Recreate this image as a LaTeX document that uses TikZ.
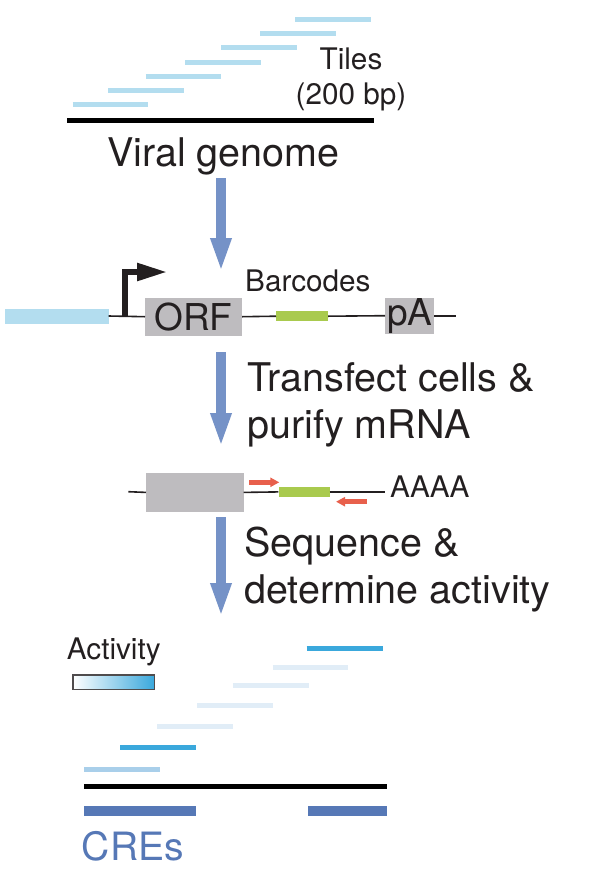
\documentclass[tikz,border=0pt]{standalone}
\usepackage{fontspec}
\setmainfont{TeX Gyre Heros}
\usetikzlibrary{arrows.meta}
\definecolor{tileblue}{HTML}{B3DDEF}
\definecolor{stepblue}{HTML}{7592C7}
\definecolor{orfgray}{HTML}{BEBCBF}
\definecolor{bcgreen}{HTML}{A9CA4E}
\definecolor{primerred}{HTML}{E8604C}
\definecolor{actbright}{HTML}{3AA8DC}
\definecolor{actmid}{HTML}{A9CFEA}
\definecolor{actfaint}{HTML}{E1EDF7}
\definecolor{creblue}{HTML}{5678B6}
\definecolor{ink}{HTML}{231F20}
\newcommand{\bigfont}{\fontsize{39.5}{46.5}\selectfont}
\newcommand{\boxfont}{\fontsize{37}{44}\selectfont}
\newcommand{\smallfont}{\fontsize{29.7}{35}\selectfont}

\begin{document}
\begin{tikzpicture}[
  x=1pt, y=-1pt,
  tile/.style={line width=5pt, tileblue},
  acttile/.style={line width=5pt},
  genome/.style={line width=5pt, black},
  dna/.style={line width=1.6pt, ink},
  box/.style={fill=orfgray, inner sep=0pt, anchor=north west,
              font=\boxfont, text=ink},
  lbl/.style={inner sep=0pt, anchor=base west, font=\smallfont, text=ink},
  biglbl/.style={inner sep=0pt, anchor=base west, font=\bigfont,
                 text=ink, align=left},
  stagearr/.style={line width=10pt, stepblue,
                   -{Triangle[length=34pt, width=19pt]}},
  primer/.style={line width=4.5pt, primerred,
                 -{Triangle[length=9pt, width=9pt]}},
]
\useasboundingbox (0,0) rectangle (597,876);

% ---- Tiles on the viral genome ----
\draw[tile] (72.7,104.7) -- (148.3,104.7);
\draw[tile] (108.0,90.3) -- (183.5,90.3);
\draw[tile] (145.7,76.3) -- (221.2,76.3);
\draw[tile] (185.3,62.3) -- (260.8,62.3);
\draw[tile] (221.0,47.7) -- (296.5,47.7);
\draw[tile] (260.3,33.7) -- (335.8,33.7);
\draw[tile] (295.0,19.3) -- (370.5,19.3);
\node[lbl, anchor=base, align=center] (tiles) at (351,104)
  {Tiles\\(200 bp)};

\draw[genome] (67.3,120.7) -- (374,120.7);
\node[biglbl] (viral) at (107,166.7) {Viral genome};

% ---- Step 1 ----
\coordinate (s1a) at (221,178);
\coordinate (s1b) at (221,272);
\draw[stagearr] (s1a) -- (s1b);

% ---- Reporter construct ----
\node[fill=tileblue, inner sep=0pt, anchor=north west,
      minimum width=103.3pt, minimum height=15pt] (ins) at (5,308.3) {};
\node[box, minimum width=96.7pt, minimum height=38.4pt] (orf) at (145,297.3)
  {ORF};
\node[fill=bcgreen, inner sep=0pt, anchor=north west,
      minimum width=51.7pt, minimum height=10pt] (bc) at (276,311) {};
\node[box, minimum width=49pt, minimum height=35.6pt] (pa) at (385,297.7)
  {pA};
\coordinate (dnaend) at (456,315.7);
\coordinate (tss) at (125,315.7);
\coordinate (tsstip) at (167,272);

\draw[dna] (ins.east) -- (orf.west);
\draw[dna] (orf.east) -- (bc.west);
\draw[dna] (bc.east) -- (pa.west);
\draw[dna] (pa.east) -- (dnaend);
\draw[line width=5.5pt, ink, -{Triangle[length=30pt, width=17pt]}]
  (tss) |- (tsstip);
\node[lbl] (barcodes) at (245,291.7) {Barcodes};

% ---- Step 2 ----
\coordinate (s2a) at (221,352);
\coordinate (s2b) at (221,447);
\draw[stagearr] (s2a) -- (s2b);
\node[biglbl] (transfect) at (247,438.3)
  {Transfect cells \&\\purify mRNA};

% ---- mRNA ----
\node[box, minimum width=97.3pt, minimum height=39pt] (mrna) at (146,472.7) {};
\node[fill=bcgreen, inner sep=0pt, anchor=north west,
      minimum width=51pt, minimum height=10pt] (mbc) at (278.3,486.7) {};
\node[lbl] (aaaa) at (390,497.3) {AAAA};
\coordinate (mleft) at (128.3,491.7);

\draw[dna] (mleft) -- (mrna.west);
\draw[dna] (mrna.east) -- (mbc.west);
\draw[dna, shorten >=5pt] (mbc.east) -- (mbc.east -| aaaa.west);
\draw[primer] (249.3,482.3) -- (279.3,482.3);
\draw[primer] (366.7,501.7) -- (336,501.7);

% ---- Step 3 ----
\coordinate (s3a) at (221,517);
\coordinate (s3b) at (221,617);
\draw[stagearr] (s3a) -- (s3b);
\node[biglbl] (sequence) at (244,603.3)
  {Sequence \&\\determine activity};

% ---- Activity ----
\node[lbl] (activity) at (66.7,659.3) {Activity};
\node[draw=ink!80, line width=1.2pt, inner sep=0pt, anchor=north west,
      minimum width=81.4pt, minimum height=14.7pt,
      left color=white, right color=actbright] (actbar) at (72.3,674.3) {};

\draw[acttile, actmid]    (84.3,769.7) -- (160.3,769.7);
\draw[acttile, actbright] (120.0,747.7) -- (195.7,747.7);
\draw[acttile, actfaint]  (157.3,726.3) -- (233.3,726.3);
\draw[acttile, actfaint]  (197.0,705.7) -- (272.7,705.7);
\draw[acttile, actfaint]  (232.7,685.3) -- (308.7,685.3);
\draw[acttile, actfaint]  (272.7,667.3) -- (348.3,667.3);
\draw[acttile, actbright] (306.7,648.7) -- (382.7,648.7);

\draw[genome] (84.3,786) -- (386.7,786);

% ---- CREs ----
\fill[creblue] (84.3,805.7) rectangle (195.7,815.7);
\fill[creblue] (308.3,805.7) rectangle (386.7,815.7);
\node[biglbl, text=creblue, font=\fontsize{39}{46}\selectfont] (cres)
  at (81.7,860.7) {CREs};

\end{tikzpicture}
\end{document}
